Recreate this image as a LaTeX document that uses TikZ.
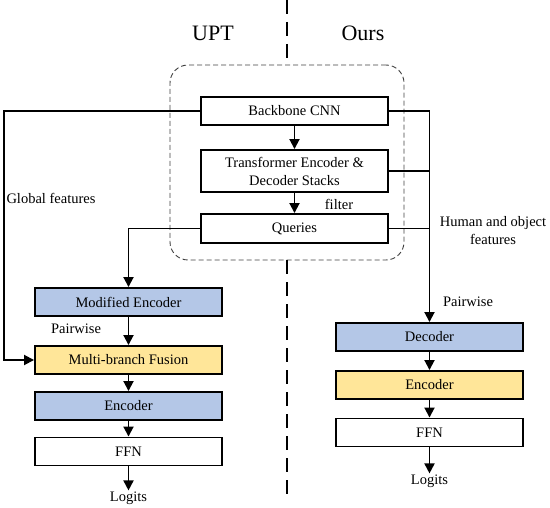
\documentclass[tikz,border=0pt]{standalone}
\usepackage{fontspec}
\setmainfont{Liberation Serif}
\usepackage{xcolor}
\usetikzlibrary{arrows.meta,positioning}
\definecolor{encblue}{RGB}{180,199,231}
\definecolor{fuseyellow}{RGB}{255,230,153}

\tikzset{
  blk/.style={draw, line width=1.9pt, minimum width=187pt, minimum height=28pt,
    inner sep=0pt, font=\fontsize{14.5}{18}\selectfont, align=center},
  lbl/.style={inner sep=1pt, font=\fontsize{14.5}{18}\selectfont, align=center},
  flow/.style={line width=1.8pt, -{Triangle[length=10pt,width=10pt]}},
  wire/.style={line width=1.8pt},
  divider/.style={line width=2.2pt, dash pattern=on 14pt off 8pt},
  corebox/.style={draw=black!75, line width=0.9pt, dash pattern=on 5pt off 3pt,
    rounded corners=18pt, minimum width=234pt, minimum height=195pt}
}

\begin{document}
\begin{tikzpicture}[x=1pt,y=-1pt]
  \useasboundingbox (0,0) rectangle (550,508);

  % titles and divider
  \node[lbl, font=\fontsize{22}{26}\selectfont] (upt) at (213,33) {UPT};
  \node[lbl, font=\fontsize{22}{26}\selectfont] (ours) at (363,33) {Ours};
  \node[corebox] (core) at (287,162.5) {};
  \coordinate (divtop) at (287,0);
  \coordinate (divbot) at (287,500);
  \draw[divider] (divtop) -- (core.north);
  \draw[divider] (core.south) -- (divbot);

  % shared stages
  \node[blk] (backbone) at (294.5,111) {Backbone CNN};
  \node[blk, minimum height=42pt] (trans) at (294.5,171) {Transformer Encoder \&\\Decoder Stacks};
  \node[blk, minimum height=29pt] (queries) at (294.5,228.5) {Queries};
  \draw[flow] (backbone) -- (trans);
  \draw[flow] (trans) -- (queries);
  \node[lbl] (filter) at (339,204) {filter};

  % UPT branch
  \node[blk, fill=encblue] (modenc) at (128.5,302) {Modified Encoder};
  \node[blk, fill=fuseyellow] (fusion) at (128.5,360) {Multi-branch Fusion};
  \node[blk, fill=encblue] (encL) at (128.5,406) {Encoder};
  \node[blk] (ffnL) at (128.5,451.5) {FFN};
  \node[lbl] (logitsL) at (128.5,498) {Logits};
  \node[lbl] (pairL) at (76,329) {Pairwise};
  \node[lbl] (global) at (51,198) {Global features};

  \coordinate (gx) at (4,111);
  \draw[flow] (backbone.west) -- (gx) |- (fusion.west);
  \draw[flow] (queries.west) -| (modenc.north);
  \draw[flow] (modenc) -- (fusion);
  \draw[flow] (fusion) -- (encL);
  \draw[flow] (encL) -- (ffnL);
  \draw[flow] (ffnL) -- (logitsL);

  % our branch
  \node[blk, fill=encblue] (dec) at (429.5,337) {Decoder};
  \node[blk, fill=fuseyellow] (encR) at (429.5,385) {Encoder};
  \node[blk] (ffnR) at (429.5,432.5) {FFN};
  \node[lbl] (logitsR) at (429.5,481) {Logits};
  \node[lbl] (pairR) at (468,302) {Pairwise};
  \node[lbl] (hoi) at (493,230.5) {Human and object\\features};

  \draw[flow] (backbone.east) -| (dec.north);
  \draw[wire] (trans.east) -- (trans.east -| dec.north);
  \draw[wire] (queries.east) -- (queries.east -| dec.north);
  \draw[flow] (dec) -- (encR);
  \draw[flow] (encR) -- (ffnR);
  \draw[flow] (ffnR) -- (logitsR);
\end{tikzpicture}
\end{document}
